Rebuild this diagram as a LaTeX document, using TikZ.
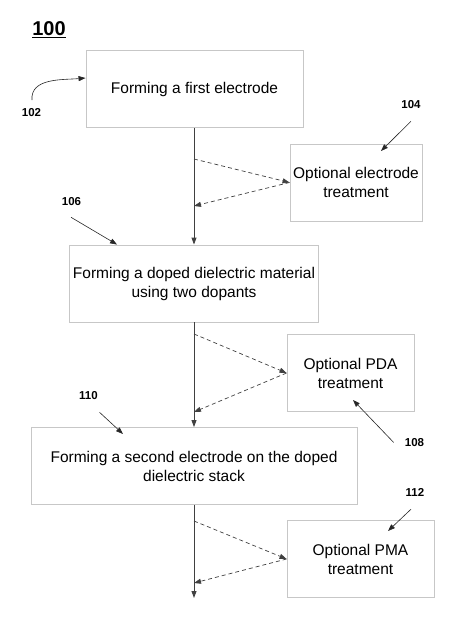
\documentclass[tikz,border=0pt]{standalone}
\usepackage{fontspec}
\setmainfont{Liberation Sans}
\usetikzlibrary{arrows.meta}

\begin{document}
\begin{tikzpicture}[x=1pt,y=-1pt,
  stepbox/.style={draw=black!22,line width=0.9pt,minimum width=#1,minimum height=77pt,
    inner sep=0pt,align=center,font=\fontsize{15.5}{19}\selectfont},
  refnum/.style={inner sep=2pt,font=\fontsize{11.5}{13}\selectfont\bfseries},
  flow/.style={-{Triangle[length=7pt,width=5pt]},line width=0.9pt,black!75},
  optflow/.style={flow,line width=0.7pt,dash pattern=on 4pt off 3pt},
  pointer/.style={-{Triangle[length=7pt,width=5pt]},line width=0.6pt,black!85}]
  \useasboundingbox (0,0) rectangle (474,622);

  \node[font=\fontsize{20}{24}\selectfont\bfseries] (fig) at (49,30) {\underline{100}};

  \node[stepbox=217pt] (form1) at (194.5,89) {Forming a first electrode};
  \node[stepbox=132pt] (opt1) at (356,182.5) {Optional electrode\\treatment};
  \node[stepbox=249pt] (dope) at (194,283.5) {Forming a doped dielectric material\\using two dopants};
  \node[stepbox=127pt] (pda) at (350.5,373) {Optional PDA\\treatment};
  \node[stepbox=326pt] (form2) at (194,466) {Forming a second electrode on the doped\\dielectric stack};
  \node[stepbox=147pt] (pma) at (360.5,559) {Optional PMA\\treatment};

  \coordinate (o1a) at (194,159);
  \coordinate (o1b) at (194,206);
  \coordinate (o2a) at (194,334);
  \coordinate (o2b) at (194,412);
  \coordinate (o3a) at (194,521);
  \coordinate (o3b) at (194,583);
  \coordinate (stop) at (194,598);

  \draw[flow] (form1.south -| dope.north) -- (dope.north);
  \draw[flow] (dope.south) -- (form2.north);
  \draw[flow] (form2.south) -- (stop);

  \draw[optflow] (o1a) -- (opt1.west);
  \draw[optflow] (opt1.west) -- (o1b);
  \draw[optflow] (o2a) -- (pda.west);
  \draw[optflow] (pda.west) -- (o2b);
  \draw[optflow] (o3a) -- (pma.west);
  \draw[optflow] (pma.west) -- (o3b);

  \node[refnum] (l102) at (31.5,112.5) {102};
  \node[refnum] (l104) at (411,105) {104};
  \node[refnum] (l106) at (71.5,202) {106};
  \node[refnum] (l108) at (414.5,442.5) {108};
  \node[refnum] (l110) at (88.5,396) {110};
  \node[refnum] (l112) at (415,492) {112};

  \coordinate (h104) at (381,151);
  \coordinate (h108) at (353,400);
  \coordinate (h110) at (123,434);
  \coordinate (h112) at (388,531);

  \draw[pointer] ([shift={(0.5,-6)}]l102.north) to[out=95,in=185] ([yshift=11pt]form1.west);
  \draw[pointer] ([shift={(0,10)}]l104.south) -- (h104);
  \draw[pointer] ([shift={(-0.5,9)}]l106.south) -- ([xshift=48pt]dope.north west);
  \draw[pointer] ([shift={(-9,0)}]l108.west) -- (h108);
  \draw[pointer] ([shift={(11,10)}]l110.south) -- (h110);
  \draw[pointer] ([shift={(-4,11)}]l112.south) -- (h112);
\end{tikzpicture}
\end{document}
